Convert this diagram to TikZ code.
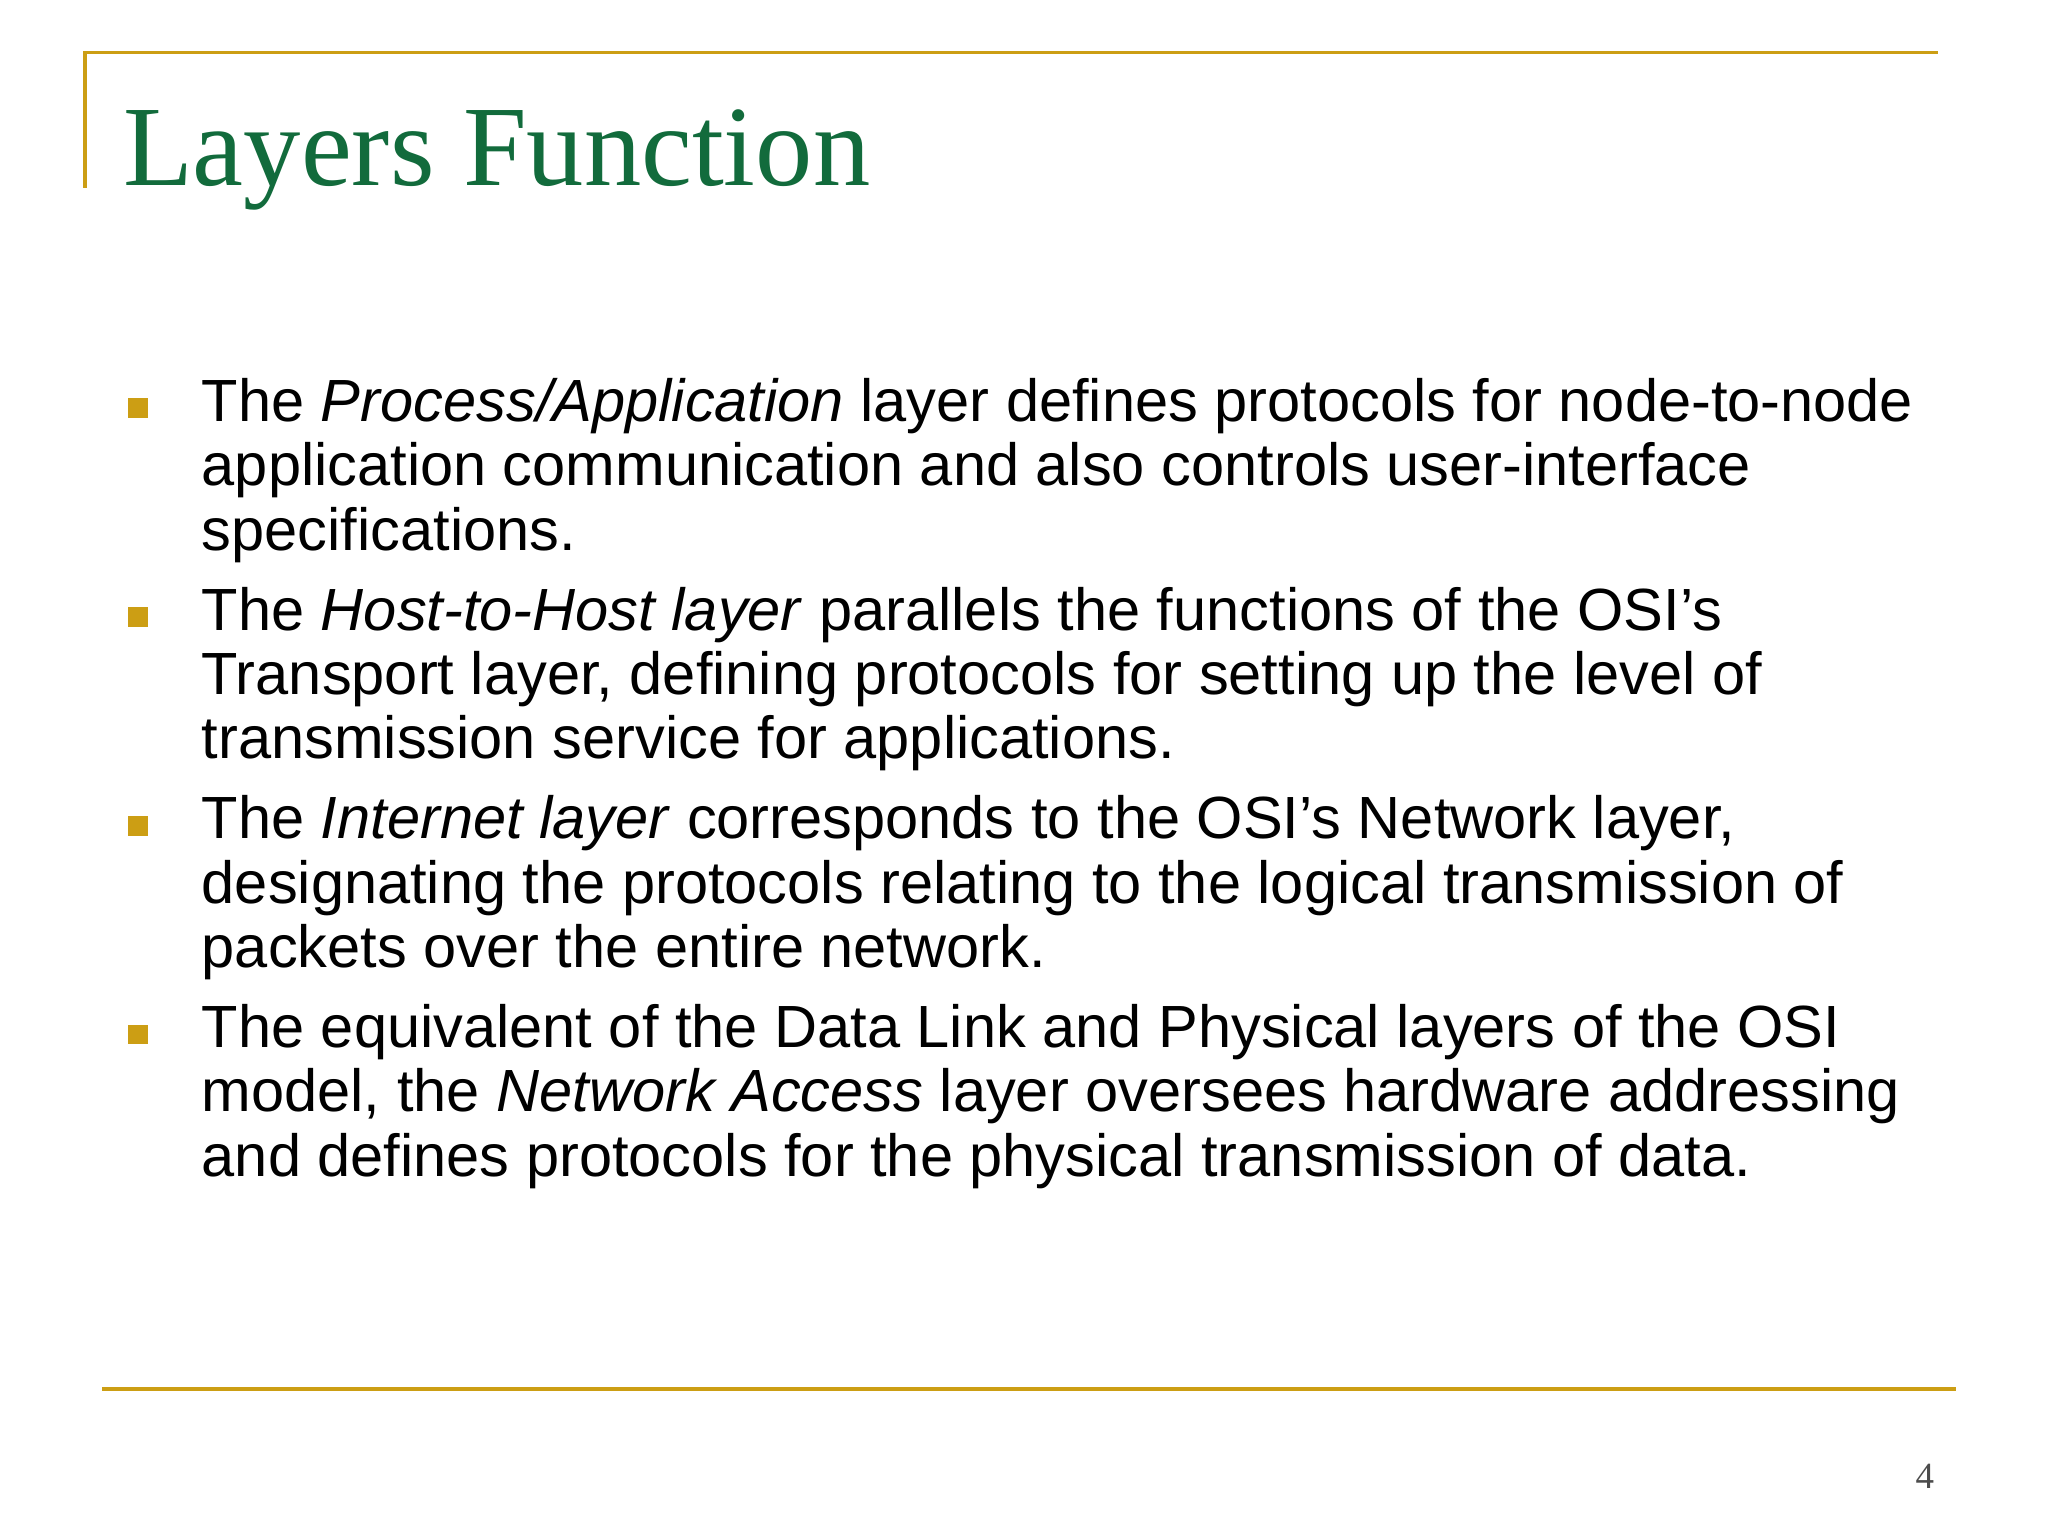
\documentclass[tikz,border=0pt]{standalone}
\usepackage{fontspec}
\setmainfont{Liberation Sans}
\newfontfamily\titlefont{Liberation Serif}
\definecolor{gold}{HTML}{CC9E14}
\definecolor{ttlgreen}{HTML}{126B3C}
\begin{document}
\begin{tikzpicture}[x=0.01cm,y=-0.01cm,
  line/.style={anchor=base west,inner sep=0pt,font=\fontsize{12.9pt}{14pt}\selectfont},
  bul/.style={fill=gold,minimum size=0.15cm,inner sep=0pt,draw=none}]
\useasboundingbox (0,0) rectangle (1560,1170);
\fill[white] (0,0) rectangle (1560,1170);
\draw[gold,line width=0.03cm] (65,143) -- (65,40) -- (1476,40);
\draw[gold,line width=0.03cm] (78,1058) -- (1490,1058);
\node[anchor=base west,inner sep=0pt,text=ttlgreen,font=\titlefont\fontsize{24.8pt}{30pt}\selectfont] (title) at (93,141) {Layers Function};
\foreach \y/\n in {311/b1,470/b2,629/b3,788/b4} \node[bul] (\n) at (105,\y) {};
\node[line] (l1) at (153,321) {The \textit{Process/Application} layer defines protocols for node-to-node};
\node[line] (l2) at (153,370) {application communication and also controls user-interface};
\node[line] (l3) at (153,419) {specifications.};
\node[line] (l4) at (153,480) {The \textit{Host-to-Host layer} parallels the functions of the OSI’s};
\node[line] (l5) at (153,529) {Transport layer, defining protocols for setting up the level of};
\node[line] (l6) at (153,578) {transmission service for applications.};
\node[line] (l7) at (153,639) {The \textit{Internet layer} corresponds to the OSI’s Network layer,};
\node[line] (l8) at (153,688) {designating the protocols relating to the logical transmission of};
\node[line] (l9) at (153,737) {packets over the entire network.};
\node[line] (l10) at (153,798) {The equivalent of the Data Link and Physical layers of the OSI};
\node[line] (l11) at (153,847) {model, the \textit{Network Access} layer oversees hardware addressing};
\node[line] (l12) at (153,896) {and defines protocols for the physical transmission of data.};
\node[anchor=base east,inner sep=0pt,text=black!70,font=\titlefont\fontsize{8pt}{9pt}\selectfont] (pg) at (1474,1134) {4};
\end{tikzpicture}
\end{document}
